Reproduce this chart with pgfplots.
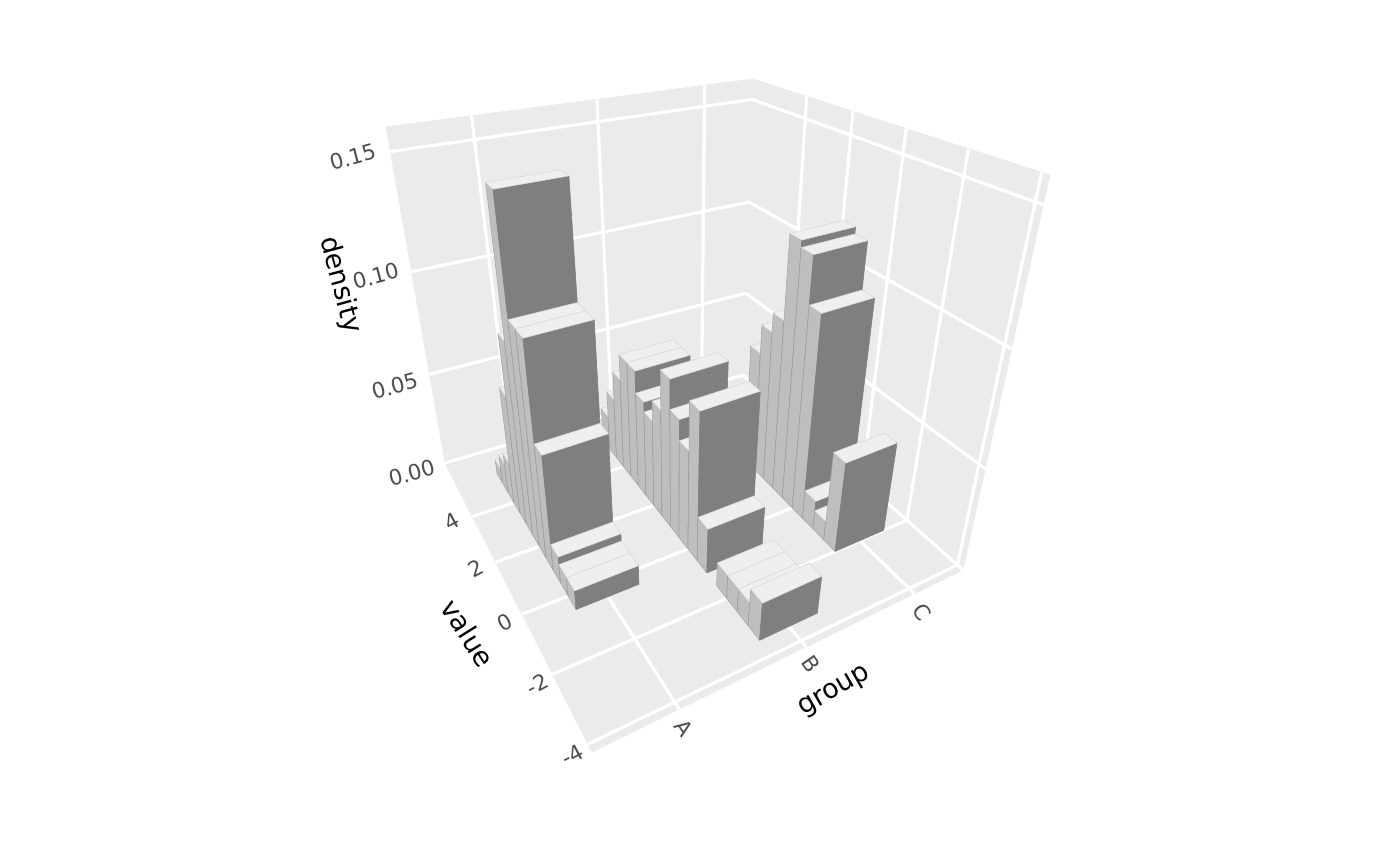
\documentclass[border=0pt]{standalone}
\usepackage{pgfplots}
\usepackage{pgfplotstable}
\pgfplotsset{compat=1.18}
\usepackage{fontspec}
\setmainfont{DejaVu Sans}

\definecolor{panel}{HTML}{EBEBEB}
\definecolor{barfront}{HTML}{7F7F7F}
\definecolor{barside}{HTML}{BEBEBE}
\definecolor{bartop}{HTML}{EFEFEF}
\definecolor{sideedge}{HTML}{A8A8A8}
\definecolor{topedge}{HTML}{DADADA}
\definecolor{ticktext}{HTML}{4D4D4D}

% histogram bins: lower edge of bin (width 0.5), density
% rows ordered from the back (high value) to the front
\pgfplotstableread{
lo dens
5.0 0.008
4.5 0.016
4.0 0.022
3.5 0.061
3.0 0.090
2.5 0.151
2.0 0.103
1.5 0.103
1.0 0.058
0.5 0.014
0.0 0.010
-0.5 0.010
}\dataA
\pgfplotstableread{
lo dens
5.0 0.019
4.5 0.033
4.0 0.048
3.5 0.061
3.0 0.061
2.5 0.050
2.0 0.045
1.5 0.055
1.0 0.074
0.5 0.060
0.0 0.050
-0.5 0.073
-1.0 0.023
-2.0 0.012
-2.5 0.012
-3.0 0.012
-3.5 0.019
}\dataB
\pgfplotstableread{
lo dens
2.0 0.062
1.5 0.076
1.0 0.085
0.5 0.122
0.0 0.119
-0.5 0.0985
-1.0 0.015
-1.5 0.010
-2.0 0.045
}\dataC

% perspective projection of (group, value, density) to picture coordinates
\newcommand\proj[5]{%
  \pgfmathsetmacro\pG{((#1)-0.4)/3.1}%
  \pgfmathsetmacro\pV{((#2)+4.207)/10.911}%
  \pgfmathsetmacro\pD{(#3)/0.1593}%
  \pgfmathsetmacro\pW{1+0.2786*\pG+0.4507*\pV+\pD*(-0.338+0.0242*\pG+0.0249*\pV)}%
  \pgfmathsetmacro#4{(592+639.3*\pG+53.6*\pV+\pD*(-224.5+6.2*\pG+18.0*\pV))/\pW}%
  \pgfmathsetmacro#5{-(752-23.2*\pG-80.3*\pV+\pD*(-552.5-7.5*\pG+25.2*\pV))/\pW}%
}
\def\projc#1#2#3{\projcc#1\relax#2#3}
\def\projcc#1,#2,#3\relax#4#5{\proj{#1}{#2}{#3}#4#5}

\newcommand\quadplot[3]{%
  \edef\qtemp{\noexpand\addplot[fill=#1, draw=#2, line width=0.3pt, line join=round, forget plot] coordinates {#3};}\qtemp}

\newcommand\pquad[6]{%
  \projc{#3}\qAx\qAy\projc{#4}\qBx\qBy\projc{#5}\qCx\qCy\projc{#6}\qDx\qDy
  \quadplot{#1}{#2}{(\qAx,\qAy) (\qBx,\qBy) (\qCx,\qCy) (\qDx,\qDy) (\qAx,\qAy)}}

\newcommand\pline[4]{%
  \projc{#3}\qAx\qAy\projc{#4}\qBx\qBy
  \edef\qtemp{\noexpand\addplot[draw=#1, line width=#2, forget plot] coordinates {(\qAx,\qAy) (\qBx,\qBy)};}\qtemp}

\newcommand\drawbar[3]{%
  \pgfmathsetmacro\bGl{#1-0.25}\pgfmathsetmacro\bGr{#1+0.25}%
  \pgfmathsetmacro\bVa{#2}\pgfmathsetmacro\bVb{#2+0.5}%
  \proj{\bGl}{\bVa}{0}\cAx\cAy
  \proj{\bGl}{\bVb}{0}\cBx\cBy
  \proj{\bGr}{\bVa}{0}\cCx\cCy
  \proj{\bGl}{\bVa}{#3}\cDx\cDy
  \proj{\bGl}{\bVb}{#3}\cEx\cEy
  \proj{\bGr}{\bVa}{#3}\cFx\cFy
  \proj{\bGr}{\bVb}{#3}\cHx\cHy
  \quadplot{barside}{sideedge}{(\cAx,\cAy) (\cBx,\cBy) (\cEx,\cEy) (\cDx,\cDy) (\cAx,\cAy)}%
  \quadplot{barfront}{barfront}{(\cAx,\cAy) (\cCx,\cCy) (\cFx,\cFy) (\cDx,\cDy) (\cAx,\cAy)}%
  \quadplot{bartop}{topedge}{(\cDx,\cDy) (\cFx,\cFy) (\cHx,\cHy) (\cEx,\cEy) (\cDx,\cDy)}%
}

\newcommand\drawgroup[2]{%
  \pgfplotstablegetrowsof{#1}%
  \pgfmathtruncatemacro\nlast{\pgfplotsretval-1}%
  \pgfplotsforeachungrouped \rowi in {0,...,\nlast}{%
    \pgfplotstablegetelem{\rowi}{lo}\of{#1}\let\rowLo\pgfplotsretval
    \pgfplotstablegetelem{\rowi}{dens}\of{#1}\let\rowD\pgfplotsretval
    \drawbar{#2}{\rowLo}{\rowD}%
  }%
}

\begin{document}
\begin{tikzpicture}
\begin{axis}[x=0.5pt, y=0.5pt, xmin=0, xmax=1400, ymin=-866, ymax=0,
  hide axis, clip=false]
\addplot[draw=none, forget plot] coordinates {(0,0) (1400,-866)};
% panels
\pquad{panel}{panel}{0.4,6.704,0}{3.5,6.704,0}{3.5,6.704,0.1593}{0.4,6.704,0.1593}
\pquad{panel}{panel}{3.5,-4.207,0}{3.5,6.704,0}{3.5,6.704,0.1593}{3.5,-4.207,0.1593}
\pquad{panel}{panel}{0.4,-4.207,0}{3.5,-4.207,0}{3.5,6.704,0}{0.4,6.704,0}
% grid lines
\pgfplotsforeachungrouped \gv in {-4,-2,0,2,4}{%
  \pline{white}{1.6pt}{0.4,\gv,0}{3.5,\gv,0}%
  \pline{white}{1.6pt}{3.5,\gv,0}{3.5,\gv,0.1593}%
}
\pgfplotsforeachungrouped \gg in {1,2,3}{%
  \pline{white}{1.6pt}{\gg,-4.207,0}{\gg,6.704,0}%
  \pline{white}{1.6pt}{\gg,6.704,0}{\gg,6.704,0.1593}%
}
\pgfplotsforeachungrouped \gd in {0,0.05,0.10,0.15}{%
  \pline{white}{1.6pt}{0.4,6.704,\gd}{3.5,6.704,\gd}%
  \pline{white}{1.6pt}{3.5,-4.207,\gd}{3.5,6.704,\gd}%
}
% bars, back to front
\drawgroup{\dataC}{3}
\drawgroup{\dataB}{2}
\drawgroup{\dataA}{1}
% tick labels
\begin{scope}[every node/.style={font=\fontsize{10.7}{12}\selectfont, text=ticktext}]
\node[rotate=15] at (axis cs:353,-157) {0.15};
\node[rotate=15] at (axis cs:376,-276) {0.10};
\node[rotate=15] at (axis cs:395,-386) {0.05};
\node[rotate=15] at (axis cs:412,-473) {0.00};
\node[rotate=28] at (axis cs:452,-521) {4};
\node[rotate=28] at (axis cs:476,-568) {2};
\node[rotate=28] at (axis cs:505,-622) {0};
\node[rotate=28] at (axis cs:537,-684) {-2};
\node[rotate=28] at (axis cs:572,-755) {-4};
\node[rotate=-55] at (axis cs:684,-728) {A};
\node[rotate=-55] at (axis cs:811,-664) {B};
\node[rotate=-55] at (axis cs:922,-612) {C};
\end{scope}
\begin{scope}[every node/.style={font=\fontsize{13.5}{15}\selectfont, text=black}]
\node[rotate=-75] at (axis cs:340,-285) {density};
\node[rotate=-58] at (axis cs:468,-633) {value};
\node[rotate=30] at (axis cs:835,-692) {group};
\end{scope}
\end{axis}
\end{tikzpicture}
\end{document}
